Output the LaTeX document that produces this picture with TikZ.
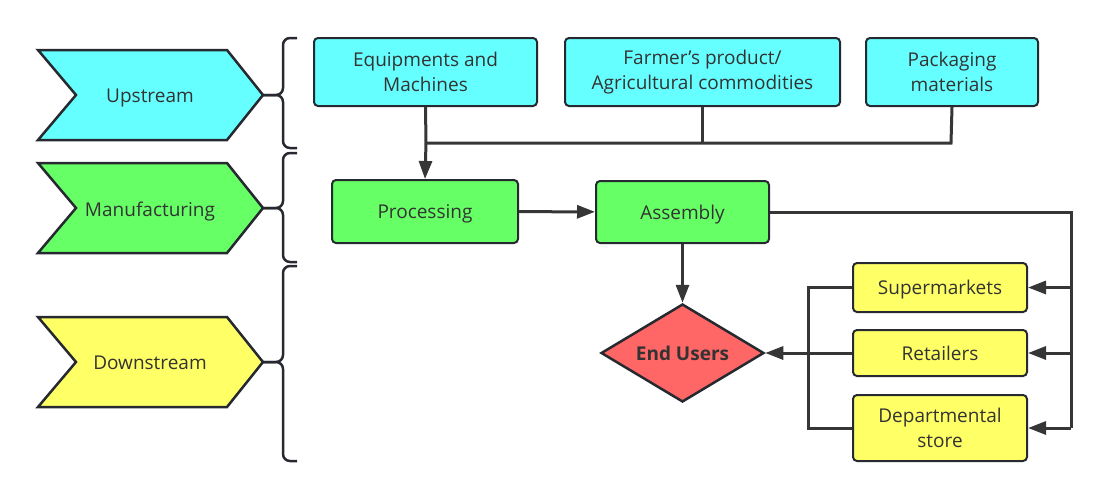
\documentclass[tikz,border=0pt]{standalone}
\usepackage{fontspec}
\setmainfont{Open Sans}
\usetikzlibrary{arrows.meta,shapes.geometric}
\definecolor{cy}{HTML}{66FFFF}
\definecolor{gr}{HTML}{66FF66}
\definecolor{ye}{HTML}{FFFF66}
\definecolor{rd}{HTML}{FF6666}
\definecolor{edge}{HTML}{262A30}
\definecolor{txt}{HTML}{333333}
\definecolor{ln}{HTML}{363636}
\begin{document}
\begin{tikzpicture}[x=1pt,y=-1pt,
  every node/.style={text=txt,font=\fontsize{19}{25}\selectfont},
  box/.style={draw=edge,line width=2pt,rounded corners=4pt,align=center,inner sep=0pt},
  one/.style={text depth=0pt},
  chev/.style={draw=edge,line width=2.5pt,line join=miter},
  brace/.style={draw=edge,line width=2.5pt,rounded corners=7pt},
  conn/.style={draw=ln,line width=3pt},
  arr/.style={conn,-{Triangle[length=18pt,width=13pt]}}]
\useasboundingbox (0,0) rectangle (1108,498);
% chevrons
\path[chev,fill=cy] (38,50) -- (227,50) -- (263,95) -- (227,140) -- (38,140) -- (76,95) -- cycle;
\path[chev,fill=gr] (38,163) -- (227,163) -- (263,208) -- (227,253) -- (38,253) -- (76,208) -- cycle;
\path[chev,fill=ye] (38,317) -- (227,317) -- (263,362) -- (227,407) -- (38,407) -- (76,362) -- cycle;
\node[one] (up) at (150,96) {Upstream};
\node[one] (mf) at (150,209) {Manufacturing};
\node[one] (dn) at (150,363) {Downstream};
% braces
\path[brace] (297,38) -- (283,38) -- (283,95) -- (263,95);
\path[brace] (263,95) -- (283,95) -- (283,148) -- (297,148);
\path[brace] (297,153) -- (283,153) -- (283,208) -- (263,208);
\path[brace] (263,208) -- (283,208) -- (283,262) -- (297,262);
\path[brace] (297,266) -- (283,266) -- (283,362) -- (263,362);
\path[brace] (263,362) -- (283,362) -- (283,461) -- (297,461);
% boxes
\node[box,fill=cy,minimum width=223pt,minimum height=68pt] (b1) at (425.5,72) {Equipments and\\Machines};
\node[box,fill=cy,minimum width=275pt,minimum height=68pt] (b2) at (702.5,72) {Farmer's product/\\Agricultural commodities};
\node[box,fill=cy,minimum width=172pt,minimum height=68pt] (b3) at (952,72) {Packaging\\materials};
\node[box,one,fill=gr,minimum width=186pt,minimum height=63pt] (proc) at (425,211.5) {Processing};
\node[box,one,fill=gr,minimum width=173pt,minimum height=62pt] (asm) at (682.5,212) {Assembly};
\node[box,one,fill=ye,minimum width=174pt,minimum height=49pt] (sup) at (940,287.5) {Supermarkets};
\node[box,one,fill=ye,minimum width=174pt,minimum height=46pt] (ret) at (940,353) {Retailers};
\node[box,fill=ye,minimum width=174pt,minimum height=66pt] (dep) at (940,428) {Departmental\\store};
\node[draw=edge,line width=2.5pt,fill=rd,diamond,aspect=1.66,minimum width=163pt,minimum height=98pt,inner sep=0pt,font=\fontsize{19}{25}\selectfont\bfseries] (eu) at (682.5,353) {End Users};
% connectors
\coordinate (j) at (426,143);
\coordinate (j2) at (702.5,143);
\coordinate (j3) at (951,143);
\coordinate (r0) at (1071,212);
\coordinate (r1) at (1071,287.5);
\coordinate (r2) at (1071,353);
\coordinate (r3) at (1071,428);
\coordinate (l1) at (808,287.5);
\coordinate (l3) at (808,428);
\draw[conn] (b1.south) -- (j);
\draw[conn] (b2.south) -- (j2);
\draw[conn] (b3.south) -- (j3) -- (j);
\draw[arr] (j) -- (proc.north);
\draw[arr] (proc) -- (asm);
\draw[arr] (asm) -- (eu.north);
\draw[conn] (asm.east) -- (r0) -- (r3);
\draw[arr] (r1) -- (sup.east);
\draw[arr] (r2) -- (ret.east);
\draw[arr] (r3) -- (dep.east);
\draw[conn] (sup.west) -- (l1) -- (l3) -- (dep.west);
\draw[arr] (ret.west) -- (eu.east);
\end{tikzpicture}
\end{document}
